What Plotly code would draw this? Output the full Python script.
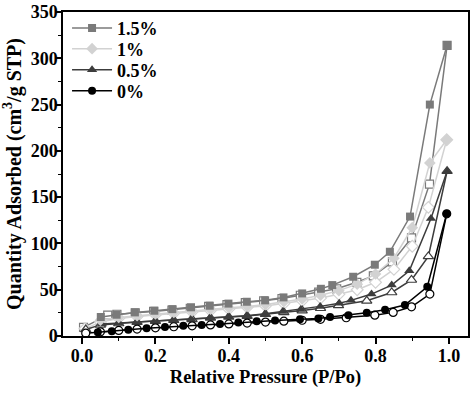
import plotly.graph_objects as go

# ---------- data ----------
labels = ["1.5%", "1%", "0.5%", "0%"]

# 1.5 %
p15_ads = [0.051, 0.094, 0.144, 0.197, 0.246, 0.297, 0.348, 0.399, 0.449, 0.499, 0.549, 0.600, 0.651, 0.682, 0.739, 0.798, 0.839, 0.894, 0.948, 0.995]
q15_ads = [20.5, 23.0, 25.5, 27.3, 29.0, 31.0, 32.7, 35.0, 37.0, 38.5, 41.7, 46.0, 51.0, 55.0, 64.0, 77.0, 91.0, 129.0, 250.0, 314.0]
p15_des = [0.995, 0.947, 0.898, 0.846, 0.794, 0.749, 0.694, 0.645, 0.595, 0.545, 0.495, 0.445, 0.395, 0.345, 0.295, 0.245, 0.195, 0.145, 0.095, 0.070, 0.004]
q15_des = [314.0, 164.0, 106.0, 80.0, 65.0, 58.0, 51.0, 47.5, 44.0, 40.5, 38.0, 36.0, 34.0, 32.0, 30.0, 28.0, 26.5, 25.0, 23.5, 22.5, 9.4]

# 1 %
p1_ads = [0.05, 0.10, 0.15, 0.20, 0.25, 0.30, 0.35, 0.40, 0.45, 0.50, 0.55, 0.60, 0.65, 0.70, 0.75, 0.80, 0.85, 0.90, 0.948, 0.994]
q1_ads = [17.0, 20.0, 22.0, 24.0, 25.5, 27.0, 29.0, 30.5, 32.0, 34.0, 37.0, 40.0, 44.0, 49.0, 56.0, 67.0, 84.0, 117.0, 187.0, 212.0]
p1_des = [0.994, 0.944, 0.90, 0.85, 0.80, 0.75, 0.70, 0.65, 0.60, 0.55, 0.50, 0.45, 0.40, 0.35, 0.30, 0.25, 0.20, 0.15, 0.10, 0.05, 0.008]
q1_des = [212.0, 139.0, 97.0, 72.0, 58.0, 50.0, 45.0, 41.0, 38.0, 35.0, 32.5, 31.0, 29.0, 27.5, 26.0, 24.5, 23.0, 21.0, 19.0, 15.0, 8.0]

# 0.5 %
p05_ads = [0.054, 0.099, 0.149, 0.199, 0.249, 0.297, 0.349, 0.399, 0.449, 0.499, 0.547, 0.596, 0.649, 0.701, 0.733, 0.789, 0.844, 0.892, 0.951, 0.995]
q05_ads = [12.9, 14.0, 15.1, 16.2, 17.6, 18.3, 19.8, 20.9, 21.9, 24.0, 26.5, 28.5, 32.0, 35.5, 38.5, 45.3, 55.0, 70.5, 127.0, 178.0]
p05_des = [0.995, 0.944, 0.898, 0.844, 0.776, 0.699, 0.650, 0.600, 0.550, 0.500, 0.450, 0.400, 0.350, 0.300, 0.250, 0.200, 0.150, 0.100, 0.050, 0.010]
q05_des = [178.0, 86.0, 60.5, 47.0, 38.0, 33.0, 30.0, 27.5, 25.5, 23.5, 21.5, 20.5, 19.5, 18.0, 17.0, 16.0, 15.0, 13.5, 12.0, 7.0]

# 0 %
p0_ads = [0.043, 0.081, 0.126, 0.176, 0.226, 0.276, 0.326, 0.376, 0.426, 0.476, 0.526, 0.594, 0.644, 0.676, 0.726, 0.776, 0.826, 0.880, 0.941, 0.994]
q0_ads = [4.0, 5.0, 6.8, 8.4, 9.8, 11.0, 12.0, 13.0, 14.5, 15.8, 16.8, 18.0, 19.0, 20.5, 22.5, 25.0, 28.4, 33.4, 53.2, 132.0]
p0_des = [0.994, 0.948, 0.898, 0.848, 0.798, 0.720, 0.650, 0.600, 0.550, 0.500, 0.450, 0.400, 0.350, 0.300, 0.250, 0.200, 0.150, 0.100, 0.050, 0.010]
q0_des = [132.0, 45.3, 31.5, 25.5, 22.5, 19.7, 18.0, 17.0, 16.0, 15.0, 14.0, 13.0, 12.0, 11.0, 10.0, 8.8, 7.5, 6.0, 4.5, 3.0]

ads = [(p15_ads, q15_ads), (p1_ads, q1_ads), (p05_ads, q05_ads), (p0_ads, q0_ads)]
des = [(p15_des, q15_des), (p1_des, q1_des), (p05_des, q05_des), (p0_des, q0_des)]

colors = ["#7a7a7a", "#d2d2d2", "#3c3c3c", "#000000"]
symbols = ["square", "diamond", "triangle-up", "circle"]
sizes = [8, 9, 9, 8]

font_family = "Liberation Serif"
legend_names = ["legend2", "legend3", "legend4", "legend5"]
legend_y = [1.007, 0.943, 0.878, 0.813]

fig = go.Figure()

# desorption branches (open markers), drawn first
for i in range(4):
    p, q = des[i]
    fig.add_trace(go.Scatter(
        x=p, y=q, mode="lines+markers", showlegend=False,
        line=dict(color=colors[i], width=1.5),
        marker=dict(symbol=symbols[i], size=sizes[i], color="white",
                    line=dict(color=colors[i], width=1.2)),
    ))

# adsorption branches (filled markers), drawn in reverse so 1.5% is on top
for i in [3, 2, 1, 0]:
    p, q = ads[i]
    fig.add_trace(go.Scatter(
        x=p, y=q, mode="lines+markers", name=labels[i],
        legend=legend_names[i], showlegend=True,
        line=dict(color=colors[i], width=1.5),
        marker=dict(symbol=symbols[i], size=sizes[i], color=colors[i],
                    line=dict(color=colors[i], width=0)),
    ))

leg_common = dict(xanchor="left", yanchor="top", bgcolor="rgba(0,0,0,0)", borderwidth=0,
                  itemwidth=40, visible=True,
                  font=dict(family=font_family, size=18, color="black", weight="bold"))

layout_legends = {}
for name, ly in zip(legend_names, legend_y):
    layout_legends[name] = dict(x=0.01, y=ly, **leg_common)

fig.update_layout(
    width=474, height=397,
    margin=dict(l=63, r=6, t=12, b=61),
    paper_bgcolor="white", plot_bgcolor="white",
    font=dict(family=font_family, color="black"),
    showlegend=True,
    **layout_legends,
    xaxis=dict(
        range=[-0.052, 1.052], tickmode="array",
        tickvals=[0, 0.2, 0.4, 0.6, 0.8, 1.0],
        ticktext=["0.0", "0.2", "0.4", "0.6", "0.8", "1.0"],
        ticks="outside", ticklen=6, tickwidth=1.5, tickcolor="black",
        ticklabelstandoff=-3,
        minor=dict(dtick=0.1, tick0=0, ticks="outside", ticklen=3, tickwidth=1.2, tickcolor="black"),
        showline=True, linecolor="black", linewidth=1.5, mirror=True,
        showgrid=False, zeroline=False, automargin=False,
        tickfont=dict(family=font_family, size=18, color="black", weight="bold"),
        title=dict(text="Relative Pressure (P/Po)", standoff=5,
                   font=dict(family=font_family, size=18.5, color="black", weight="bold")),
    ),
    yaxis=dict(
        range=[0, 350], tickmode="linear", tick0=0, dtick=50,
        ticks="outside", ticklen=5, tickwidth=1.5, tickcolor="black",
        ticklabelstandoff=-5,
        minor=dict(dtick=25, ticks="outside", ticklen=3, tickwidth=1.2, tickcolor="black"),
        showline=True, linecolor="black", linewidth=1.5, mirror=True,
        showgrid=False, zeroline=False, automargin=False,
        tickfont=dict(family=font_family, size=18, color="black", weight="bold"),
        title=dict(text="Quantity Adsorbed (cm<sup>3</sup>/g STP)", standoff=4,
                   font=dict(family=font_family, size=20, color="black", weight="bold")),
    ),
)

fig.write_html("out.html", config={"displayModeBar": False},
               post_script="document.body.style.margin='0px';")
